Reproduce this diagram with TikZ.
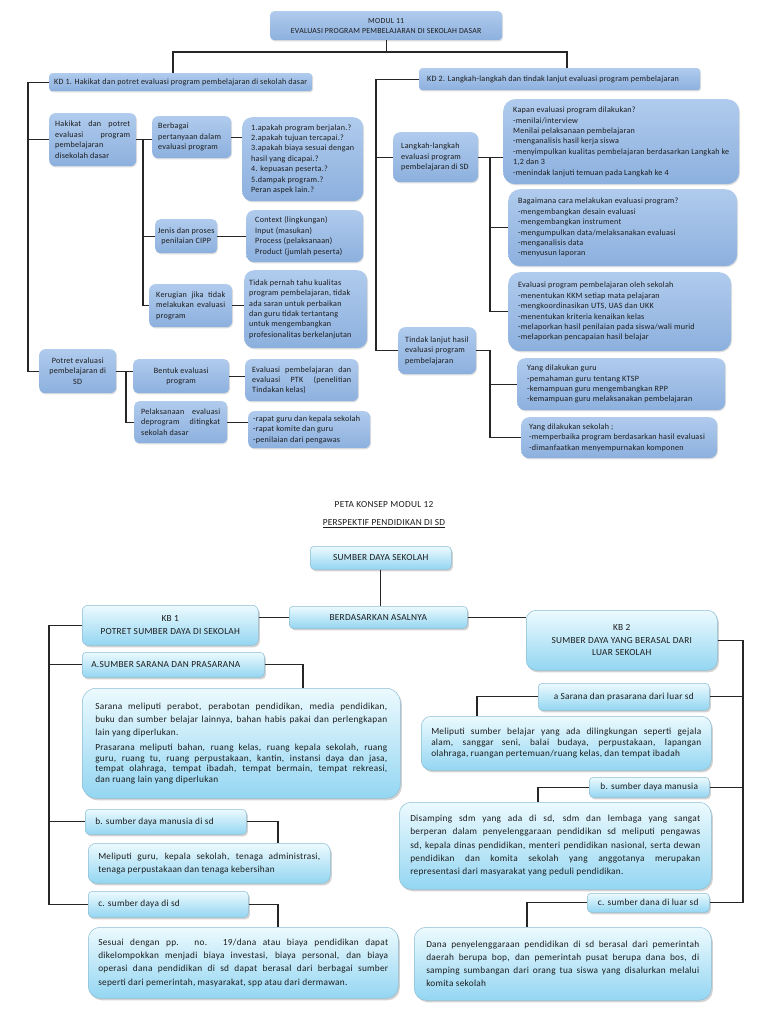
\documentclass[tikz,border=0pt]{standalone}
\usepackage{fontspec}
\usepackage{graphicx}
\setmainfont{Carlito}[LetterSpace=3]
\usetikzlibrary{shadows}
\definecolor{tbA}{RGB}{176,203,237}
\definecolor{tbB}{RGB}{140,176,222}
\definecolor{bbA}{RGB}{236,250,254}
\definecolor{bbB}{RGB}{148,214,242}
\definecolor{bbD}{RGB}{140,190,212}
\definecolor{txtc}{RGB}{28,28,28}
\newcommand\myTopFont{\fontsize{8.1}{10.4}\selectfont}
\newcommand\myTitleFont{\fontsize{7.8}{10}\selectfont}
\newcommand\myBotFont{\fontsize{9.3}{13.2}\selectfont}
\newcommand\myCapFont{\fontsize{9.3}{12.5}\selectfont}
\newcommand\jl[1]{\leavevmode\setbox0\hbox{#1}\ifdim\wd0>\linewidth\resizebox{\linewidth}{\height}{#1}\else\makebox[\linewidth][s]{#1}\fi\\}
\newcommand\fl[1]{\leavevmode\setbox0\hbox{#1}\ifdim\wd0>\linewidth\resizebox{\linewidth}{\height}{#1}\else\box0\fi}
\newcommand\bx[8]{%
  \pgfmathsetmacro\myBW{#5-#3}%
  \pgfmathsetmacro\myBH{#6-#4}%
  \pgfmathsetmacro\myTW{#5-#3-2*#7}%
  \node[#2, inner sep=0pt, anchor=north west, minimum width=\myBW pt, minimum height=\myBH pt] (#1) at (#3,#4) {\parbox{\myTW pt}{\raggedright #8}};}
\tikzset{
  tbox/.style={rounded corners=#1, top color=tbA, bottom color=tbB, font=\myTopFont, text=txtc,
    drop shadow={opacity=0.25, shadow xshift=0.8pt, shadow yshift=-1.2pt}},
  tbox/.default=5pt,
  bbox/.style={rounded corners=#1, draw=bbD, line width=0.5pt, top color=bbA, bottom color=bbB, font=\myBotFont, text=txtc,
    drop shadow={opacity=0.35, shadow xshift=1.5pt, shadow yshift=-2pt}},
  bbox/.default=5pt,
  conn/.style={line width=1.1pt, draw=black!85},
}
\begin{document}
\begin{tikzpicture}[x=1pt,y=-1pt]
\fill[white] (0,0) rectangle (768,1009);
\useasboundingbox (0,0) rectangle (768,1009);

% ===== TOP: MODUL 11 =====
\bx{title}{tbox=4pt, font=\myTitleFont}{270}{11}{502}{40}{3}{\centering MODUL 11\\EVALUASI PROGRAM PEMBELAJARAN DI SEKOLAH DASAR}
\bx{kd1}{tbox=3pt}{49}{73}{312}{91}{5}{\fl{KD 1. Hakikat dan potret evaluasi program pembelajaran di sekolah dasar}}
\bx{kd2}{tbox=3pt}{419}{68}{700}{90}{8}{\fl{KD 2. Langkah-langkah dan tindak lanjut evaluasi program pembelajaran}}

\bx{hak}{tbox=6pt}{49}{113}{136}{166}{6}{\jl{Hakikat dan potret}\jl{evaluasi program}pembelajaran\\disekolah dasar}
\bx{ber}{tbox=6pt}{152}{116}{231}{158}{6}{Berbagai\\pertanyaan dalam\\evaluasi program}
\bx{l1}{tbox=10pt}{242}{117}{363}{201}{9}{1.apakah program berjalan.?\\2.apakah tujuan tercapai.?\\3.apakah biaya sesuai dengan\\hasil yang dicapai.?\\4. kepuasan peserta.?\\5.dampak program.?\\Peran aspek lain.?}
\bx{jen}{tbox=5pt}{155}{219}{217}{253}{0.5}{\centering Jenis dan proses\\penilaian CIPP}
\bx{cipp}{tbox=8pt}{246}{210}{363}{262}{9}{Context (lingkungan)\\Input (masukan)\\Process (pelaksanaan)\\Product (jumlah peserta)}
\bx{ker}{tbox=6pt}{149}{284}{232}{327}{7}{\jl{Kerugian jika tidak}\jl{melakukan evaluasi}program}
\bx{kt}{tbox=10pt}{244}{270}{367}{348}{5}{Tidak pernah tahu kualitas\\program pembelajaran, tidak\\ada saran untuk perbaikan\\dan guru tidak tertantang\\untuk mengembangkan\\profesionalitas berkelanjutan}
\bx{pot}{tbox=6pt}{39}{349}{116}{393}{3}{\centering Potret evaluasi\\pembelajaran di\\SD}
\bx{bent}{tbox=5pt}{133}{359}{229}{393}{5}{\centering Bentuk evaluasi\\program}
\bx{bt}{tbox=6pt}{245}{359}{358}{401}{7}{\jl{Evaluasi pembelajaran dan}\jl{evaluasi PTK (penelitian}Tindakan kelas)}
\bx{pel}{tbox=5pt}{134}{401}{227}{443}{7}{\jl{Pelaksanaan evaluasi}\jl{deprogram ditingkat}sekolah dasar}
\bx{pt}{tbox=6pt}{248}{411}{370}{448}{5}{-rapat guru dan kepala sekolah\\-rapat komite dan guru\\-penilaian dari pengawas}

\bx{lan}{tbox=7pt}{393}{132}{478}{182}{8}{Langkah-langkah\\evaluasi program\\pembelajaran di SD}
\bx{kap}{tbox=12pt}{503}{99}{739}{184}{10}{Kapan evaluasi program dilakukan?\\-menilai/interview\\Menilai pelaksanaan pembelajaran\\-menganalisis hasil kerja siswa\\\fl{-menyimpulkan kualitas pembelajaran berdasarkan Langkah ke}\\1,2 dan 3\\-menindak lanjuti temuan pada Langkah ke 4}
\bx{bag}{tbox=12pt}{508}{189}{737}{266}{10}{Bagaimana cara melakukan evaluasi program?\\-mengembangkan desain evaluasi\\-mengembangkan instrument\\-mengumpulkan data/melaksanakan evaluasi\\-menganalisis data\\-menyusun laporan}
\bx{eva}{tbox=12pt}{508}{272}{731}{351}{10}{Evaluasi program pembelajaran oleh sekolah\\-menentukan KKM setiap mata pelajaran\\-mengkoordinasikan UTS, UAS dan UKK\\-menentukan kriteria kenaikan kelas\\\fl{-melaporkan hasil penilaian pada siswa/wali murid}\\-melaporkan pencapaian hasil belajar}
\bx{tin}{tbox=7pt}{398}{327}{476}{374}{7}{Tindak lanjut hasil\\evaluasi program\\pembelajaran}
\bx{yg}{tbox=8pt}{517}{358}{725}{410}{10}{Yang dilakukan guru\\-pemahaman guru tentang KTSP\\-kemampuan guru mengembangkan RPP\\\fl{-kemampuan guru melaksanakan pembelajaran}}
\bx{ys}{tbox=8pt}{521}{417}{717}{458}{8}{Yang dilakukan sekolah ;\\\fl{-memperbaika program berdasarkan hasil evaluasi}\\-dimanfaatkan menyempurnakan komponen}

% top connectors
\coordinate (tj) at (title.south |- 0,52);
\draw[conn] (title.south) -- (tj);
\draw[conn] (kd1.north -| 173,0) |- (tj) -| (kd2.north -| 567,0);
\draw[conn] (kd1.west) -- (kd1.west -| 28,0) |- (pot.west);
\draw[conn] (hak.west -| 28,0) -- (hak.west);
\draw[conn] (hak.east) -- (hak.east -| ber.west);
\draw[conn] (hak.east -| 143,0) |- (ker.west);
\draw[conn] (jen.west -| 143,0) -- (jen.west);
\draw[conn] (ber.east) -- (ber.east -| l1.west);
\draw[conn] (jen.east) -- (jen.east -| cipp.west);
\draw[conn] (ker.east) -- (ker.east -| kt.west);
\draw[conn] (pot.east) -- (pot.east -| bent.west);
\draw[conn] (pot.east -| 126,0) |- (pel.west);
\draw[conn] (bent.east) -- (bent.east -| bt.west);
\draw[conn] (pel.east) -- (pel.east -| pt.west);
\draw[conn] (kd2.west) -- (kd2.west -| 376,0) |- (tin.west);
\draw[conn] (lan.west -| 376,0) -- (lan.west);
\draw[conn] (lan.east) -- (lan.east -| kap.west);
\draw[conn] (lan.east -| 490,0) |- (eva.west);
\draw[conn] (bag.west -| 490,0) -- (bag.west);
\draw[conn] (tin.east) -- (tin.east -| 490,0) |- (ys.west);
\draw[conn] (yg.west -| 490,0) -- (yg.west);

% ===== BOTTOM: MODUL 12 =====
\node[font=\myCapFont, text=txtc] (pk) at (384,505) {PETA KONSEP MODUL 12};
\node[font=\myCapFont, text=txtc] (pp) at (384,524) {\underline{PERSPEKTIF PENDIDIKAN DI SD}};
\bx{sds}{bbox=4pt, font=\myCapFont}{310}{546}{451}{569}{4}{\centering SUMBER DAYA SEKOLAH}
\bx{ber2}{bbox=4pt, font=\myCapFont}{289}{606}{467}{628}{4}{\centering BERDASARKAN ASALNYA}
\bx{kb1}{bbox=6pt, font=\myCapFont}{82}{605}{258}{645}{4}{\centering KB 1\\POTRET SUMBER DAYA DI SEKOLAH}
\bx{kb2}{bbox=10pt, font=\myCapFont}{526}{610}{717}{670}{6}{\centering KB 2\\SUMBER DAYA YANG BERASAL DARI\\LUAR SEKOLAH}
\bx{a1}{bbox=4pt, font=\myCapFont}{82}{652}{264}{677}{9}{A.SUMBER SARANA DAN PRASARANA}
\bx{sar}{bbox=14pt}{82}{688}{400}{798}{13}{\jl{Sarana meliputi perabot, perabotan pendidikan, media pendidikan,}\jl{buku dan sumber belajar lainnya, bahan habis pakai dan perlengkapan}lain yang diperlukan.\par\vspace{5pt}{\fontsize{9.3}{10.4}\selectfont\jl{Prasarana meliputi bahan, ruang kelas, ruang kepala sekolah, ruang}\jl{guru, ruang tu, ruang perpustakaan, kantin, instansi daya dan jasa,}\jl{tempat olahraga, tempat ibadah, tempat bermain, tempat rekreasi,}dan ruang lain yang diperlukan\par}}
\bx{b1}{bbox=4pt}{85}{809}{246}{834}{10}{b. sumber daya manusia di sd}
\bx{mg}{bbox=8pt}{88}{843}{330}{883}{10}{\jl{Meliputi guru, kepala sekolah, tenaga administrasi,}tenaga perpustakaan dan tenaga kebersihan}
\bx{c1}{bbox=4pt}{88}{891}{248}{917}{10}{c. sumber daya di sd}
\bx{ses}{bbox=12pt}{88}{927}{398}{998}{10}{\jl{Sesuai dengan pp. no. 19/dana atau biaya pendidikan dapat}\jl{dikelompokkan menjadi biaya investasi, biaya personal, dan biaya}\jl{operasi dana pendidikan di sd dapat berasal dari berbagai sumber}seperti dari pemerintah, masyarakat, spp atau dari dermawan.}
\bx{a2}{bbox=4pt}{538}{683}{709}{710}{3}{\centering a Sarana dan prasarana dari luar sd}
\bx{ms}{bbox=10pt}{421}{716}{711}{770}{10}{{\fontsize{9.3}{11.2}\selectfont\jl{Meliputi sumber belajar yang ada dilingkungan seperti gejala}\jl{alam, sanggar seni, balai budaya, perpustakaan, lapangan}olahraga, ruangan pertemuan/ruang kelas, dan tempat ibadah\par}}
\bx{b2}{bbox=4pt}{589}{777}{709}{797}{3}{\centering b. sumber daya manusia}
\bx{dis}{bbox=12pt}{399}{802}{711}{889}{11}{\jl{Disamping sdm yang ada di sd, sdm dan lembaga yang sangat}\jl{berperan dalam penyelenggaraan pendidikan sd meliputi pengawas}\jl{sd, kepala dinas pendidikan, menteri pendidikan nasional, serta dewan}\jl{pendidikan dan komita sekolah yang anggotanya merupakan}representasi dari masyarakat yang peduli pendidikan.}
\bx{c2}{bbox=4pt}{587}{893}{709}{912}{3}{\centering c. sumber dana di luar sd}
\bx{dana}{bbox=12pt}{414}{927}{711}{1000}{12}{\jl{Dana penyelenggaraan pendidikan di sd berasal dari pemerintah}\jl{daerah berupa bop, dan pemerintah pusat berupa dana bos, di}\jl{samping sumbangan dari orang tua siswa yang disalurkan melalui}komita sekolah}

% bottom connectors
\draw[conn] (sds.south) -- (sds.south |- ber2.north);
\draw[conn] (ber2.west) -- (ber2.west -| kb1.east);
\draw[conn] (ber2.east) -- (ber2.east -| kb2.west);
\draw[conn] (kb1.west) -- (kb1.west -| 49,0) |- (c1.west);
\draw[conn] (a1.west -| 49,0) -- (a1.west);
\draw[conn] (b1.west -| 49,0) -- (b1.west);
\draw[conn] (a1.east) -| (sar.north -| 303,0);
\draw[conn] (b1.east) -| (mg.north -| 278,0);
\draw[conn] (c1.east) -| (ses.north -| 278,0);
\draw[conn] (kb2.east) -- (kb2.east -| 743,0) |- (c2.east);
\draw[conn] (a2.east -| 743,0) -- (a2.east);
\draw[conn] (b2.east -| 743,0) -- (b2.east);
\draw[conn] (a2.west) -| (ms.north -| 477,0);
\draw[conn] (b2.west) -| (dis.north -| 538,0);
\draw[conn] (c2.west) -| (dana.north -| 527,0);
\end{tikzpicture}
\end{document}
